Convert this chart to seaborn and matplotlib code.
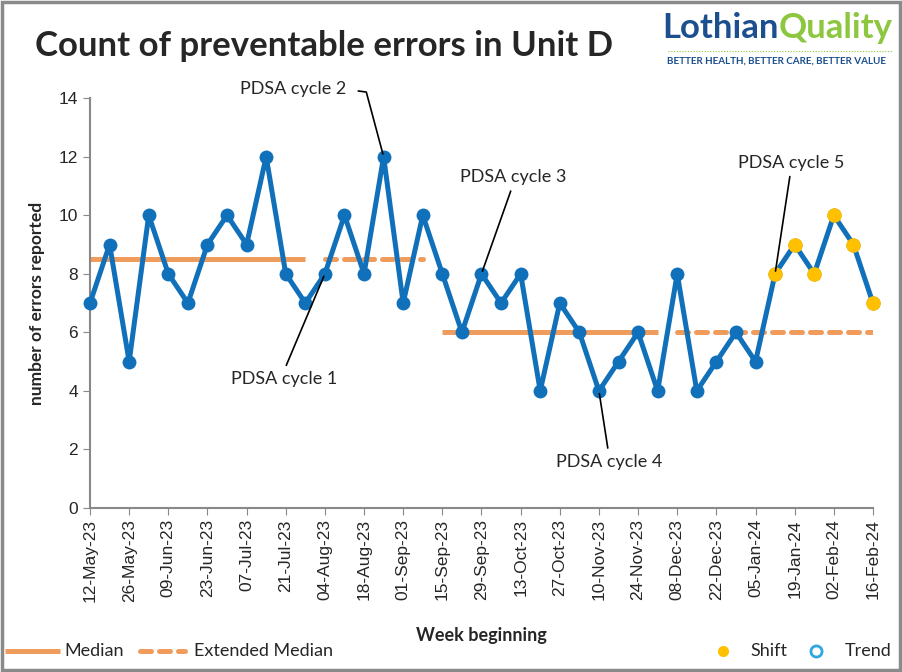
import matplotlib
matplotlib.use("Agg")
import matplotlib.pyplot as plt
import matplotlib.dates as mdates
from matplotlib.lines import Line2D
from matplotlib.patches import Rectangle
import seaborn as sb
import pandas as pd

# weekly counts, 12-May-23 .. 16-Feb-24
errors = [7, 9, 5, 10, 8, 7, 9, 10, 9, 12, 8, 7, 8, 10, 8, 12, 7, 10, 8, 6,
          8, 7, 8, 4, 7, 6, 4, 5, 6, 4, 8, 4, 5, 6, 5, 8, 9, 8, 10, 9, 7]
weeks = pd.date_range("2023-05-12", periods=len(errors), freq="7D")
shift_idx = [35, 36, 37, 38, 39, 40]

median_1 = 8.5
median_2 = 6.0
# (start index, end index, value, style)
median_segments = [(0, 11, median_1, "solid"), (12, 17, median_1, "extended"),
                   (18, 29, median_2, "solid"), (30, 40, median_2, "extended")]

# (label, point index, text x in weeks, text y)
pdsa = [("PDSA cycle 1", 12, 9.9, 4.4),
        ("PDSA cycle 2", 15, 10.4, 14.3),
        ("PDSA cycle 3", 20, 21.6, 11.3),
        ("PDSA cycle 4", 26, 26.5, 1.57),
        ("PDSA cycle 5", 35, 35.8, 11.8)]

df = pd.DataFrame({"week": weeks, "errors": errors})

blue = "#1170BA"
orange = "#F09C5C"
yellow = "#FFC000"
dash = (0, (2.2, 1.6))

sb.set_style("white")
plt.rcParams["font.family"] = ["Liberation Sans", "DejaVu Sans"]

fig = plt.figure(figsize=(9.02, 6.72), dpi=100)
ax = fig.add_axes([0.0998, 0.244, 0.868, 0.610])

# medians
for s, e, v, style in median_segments:
    seg = pd.DataFrame({"week": weeks[s:e + 1], "m": [v] * (e - s + 1)})
    sb.lineplot(data=seg, x="week", y="m", ax=ax, color=orange, linewidth=3.6,
                linestyle="-" if style == "solid" else dash,
                solid_capstyle="butt", dash_capstyle="round", zorder=2)

sb.lineplot(data=df, x="week", y="errors", ax=ax, color=blue, linewidth=3.6,
            marker="o", markersize=10, markeredgewidth=0, zorder=3,
            clip_on=False)
shift = df.iloc[shift_idx]
sb.scatterplot(data=shift, x="week", y="errors", ax=ax, color=yellow, s=110,
               linewidth=0, zorder=4, clip_on=False)

for label, i, tx, ty in pdsa:
    tdate = weeks[0] + pd.Timedelta(days=7 * tx)
    if label.endswith("2"):
        arrow = dict(arrowstyle="-", color="black", lw=1.2, shrinkA=6, shrinkB=2,
                     relpos=(1, 0.5),
                     connectionstyle="angle,angleA=-8,angleB=-75,rad=0")
    elif label.endswith("1") or label.endswith("4"):
        arrow = dict(arrowstyle="-", color="black", lw=1.2, shrinkA=2, shrinkB=2,
                     relpos=(0.5, 1))
    else:
        arrow = dict(arrowstyle="-", color="black", lw=1.2, shrinkA=2, shrinkB=2,
                     relpos=(0.5, 0))
    ax.annotate(label, xy=(weeks[i], errors[i]), xytext=(tdate, ty),
                ha="center", va="center", fontsize=13, family="Lato",
                arrowprops=arrow, zorder=5)

ax.set_xlim(weeks[0], weeks[-1])
ax.set_ylim(0, 14)
ax.set_yticks(range(0, 15, 2))
ax.set_xticks(weeks[::2])
ax.xaxis.set_major_formatter(mdates.DateFormatter("%d-%b-%y"))
ax.tick_params(axis="x", rotation=90, labelsize=12.5, length=5, color="#888888",
               direction="out", bottom=True, pad=3)
ax.tick_params(axis="y", labelsize=12.5, length=5, color="#888888",
               direction="out", left=True)
for side in ["top", "right"]:
    ax.spines[side].set_visible(False)
for side in ["left", "bottom"]:
    ax.spines[side].set_color("#888888")
    ax.spines[side].set_linewidth(1.5)
ax.set_xlabel("Week beginning", family="Lato", fontweight="bold", fontsize=13,
              labelpad=18)
ax.set_ylabel("number of errors reported", family="Lato", fontweight="bold",
              fontsize=12.5, labelpad=10)

fig.text(0.039, 0.932, "Count of preventable errors in Unit D", family="Lato",
         fontweight="bold", fontsize=25, va="center")

# logo
t2 = fig.text(0.99, 0.958, "Quality", family="Lato", fontweight="bold",
              fontsize=25, color="#8DC63F", va="center", ha="right")
fig.canvas.draw()
bb = t2.get_window_extent()
fig.text(bb.x0 / fig.bbox.width, 0.958, "Lothian", family="Lato",
         fontweight="bold", fontsize=25, color="#1B4F8E", va="center", ha="right")
fig.add_artist(Line2D([0.741, 0.99], [0.924, 0.924], transform=fig.transFigure,
                      color="#8DC63F", lw=0.8, linestyle=(0, (1, 1.5))))
fig.text(0.982, 0.909, "BETTER HEALTH, BETTER CARE, BETTER VALUE",
         family="Lato", fontweight="bold", fontsize=7.1,
         color="#1B4F8E", va="center", ha="right")

# legend row, drawn in figure pixel positions
W, H = 902.0, 672.0
ly = 1 - 651 / H
lfont = dict(family="Lato", fontsize=13, va="center")
fig.add_artist(Line2D([5 / W, 60 / W], [ly, ly], transform=fig.transFigure,
                      color=orange, lw=3.6, solid_capstyle="butt"))
fig.text(64 / W, ly, "Median", **lfont)
fig.add_artist(Line2D([140 / W, 185 / W], [ly, ly], transform=fig.transFigure,
                      color=orange, lw=3.6, linestyle=dash,
                      dash_capstyle="round"))
fig.text(194 / W, ly, "Extended Median", **lfont)
fig.add_artist(Line2D([723 / W], [ly], transform=fig.transFigure, color=yellow,
                      marker="o", markersize=8, markeredgewidth=0, lw=0))
fig.text(750 / W, ly, "Shift", **lfont)
fig.add_artist(Line2D([816 / W], [ly], transform=fig.transFigure, color="#2FA7E0",
                      marker="o", markersize=8, markerfacecolor="none",
                      markeredgewidth=2, lw=0))
fig.text(845 / W, ly, "Trend", **lfont)

fig.add_artist(Rectangle((0.002, 0.003), 0.996, 0.994, transform=fig.transFigure,
                         fill=False, edgecolor="#8A8A8A", lw=2.5))

fig.savefig("out.png", dpi=100)
